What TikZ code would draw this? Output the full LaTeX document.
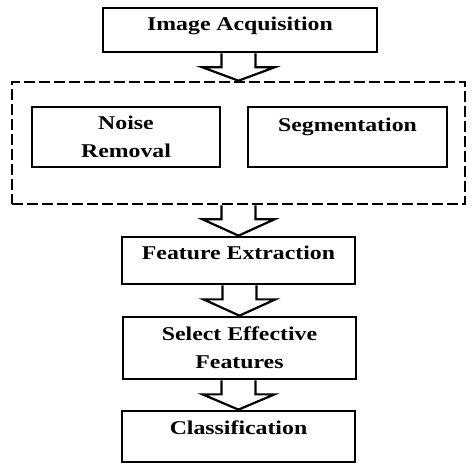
\documentclass[tikz,border=0pt]{standalone}
\usepackage{fontspec}
\setmainfont{Liberation Serif}[FakeStretch=1.22]
\usepackage{tikz}
\usetikzlibrary{positioning, calc}

% hollow block arrow from the bottom of #1 to the top of #2
\newcommand{\hollowarrow}[2]{%
  \draw[arrowline] ($(#1.south -| #2.north)+(-17,0)$) -- ($(#1.south -| #2.north)+(-17,-14)$)
    -- ($(#1.south -| #2.north)+(-36,-14)$) -- (#2.north)
    -- ($(#1.south -| #2.north)+(36,-14)$) -- ($(#1.south -| #2.north)+(17,-14)$)
    -- ($(#1.south -| #2.north)+(17,0)$);}

\begin{document}
\begin{tikzpicture}[x=1pt, y=1pt,
    procbox/.style={draw, line width=2.7pt, rectangle, align=center, font=\fontsize{19.5}{28}\selectfont\bfseries},
    upper/.style={text height=13pt, text depth=#1},
    upper/.default=17pt,
    groupbox/.style={draw, line width=2.6pt, dash pattern=on 11pt off 4pt},
    arrowline/.style={line width=2.2pt, line join=miter}]
        \useasboundingbox (0,0) rectangle (474,467);
        
        \node[procbox, upper=12pt, minimum width=274, minimum height=44] (acq) at (240,437) {Image Acquisition};
        \node[groupbox, minimum width=453, minimum height=122] (prep) at (238.5,324) {};
        \node[procbox, minimum width=188, minimum height=60] (noise) at (126,330) {Noise\\Removal};
        \node[procbox, upper=24pt, minimum width=199, minimum height=60] (seg) at (347.5,330) {Segmentation};
        \node[procbox, upper=15pt, minimum width=233, minimum height=47] (feat) at (238.5,206.5) {Feature Extraction};
        \node[procbox, minimum width=233, minimum height=62] (select) at (239.5,119) {Select Effective\\Features};
        \node[procbox, upper, minimum width=233, minimum height=51] (class) at (238.5,30.5) {Classification};
        
        \hollowarrow{acq}{prep}
        \hollowarrow{prep}{feat}
        \hollowarrow{feat}{select}
        \hollowarrow{select}{class}
      \end{tikzpicture}
\end{document}
